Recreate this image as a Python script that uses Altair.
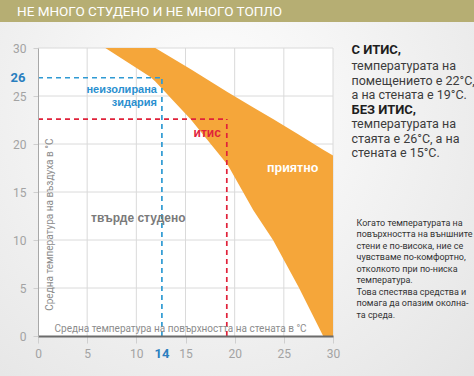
import altair as alt
import pandas as pd

# ---- data ----
band_x = [6.85, 11.4, 11.93, 15.5, 19.3, 21.9, 23.9, 26.5, 29.0, 30]
band_top = [30, 30, 30, 27.8, 25.4, 23.8, 22.6, 21.0, 19.4, 18.8]
band_bottom = [30, 27.0, 26.5, 22.6, 17.8, 13.1, 10.0, 5.1, 0, 0]

grid_vals = [5, 10, 15, 20, 25, 30]
tick_vals = [0, 5, 10, 15, 20, 25, 30]

blue_pt = (12.6, 26.9)   # uninsulated masonry: wall 14, air 26
red_pt = (19.2, 22.6)    # ITIS: wall 19, air 22

NARROW = "Roboto, Liberation Sans, sans-serif"
SANS = "Liberation Sans, Arial, sans-serif"

W, H = 295, 288
PL, PT = 38, 48

xs = alt.Scale(domain=[0, 30], nice=False, zero=False)
ys = alt.Scale(domain=[0, 30], nice=False, zero=False)

x_axis = alt.Axis(values=tick_vals, title=None, grid=False, domainColor="#6b6b6b",
                  domainWidth=2, tickColor="#cfcfcf", tickSize=7, labelPadding=5,
                  labelColor="#a3a3a3", labelFontSize=12, labelFont=NARROW, zindex=1,
                  labelFlush=False)
y_axis = alt.Axis(values=tick_vals, title=None, grid=False, domainColor="#a8a8a8",
                  domainWidth=1, tickColor="#cfcfcf", tickSize=5, labelPadding=7,
                  labelColor="#a3a3a3", labelFontSize=12, labelFont=NARROW, zindex=1,
                  labelFlush=False)

one = pd.DataFrame({"a": [0]})

# background gradient
bg = alt.Chart(one).mark_rect(
    fill=alt.RadialGradient(gradient="radial",
                            stops=[alt.GradientStop(color="#ffffff", offset=0),
                                   alt.GradientStop(color="#e2e2e2", offset=1)],
                            x1=0.45, y1=0.35, r1=0, x2=0.45, y2=0.35, r2=0.85)
).encode(x=alt.value(-PL), x2=alt.value(474 - PL), y=alt.value(-PT), y2=alt.value(376 - PT))

title_bar = alt.Chart(one).mark_rect(fill="#b6ae73").encode(
    x=alt.value(-PL), x2=alt.value(474 - PL), y=alt.value(-PT), y2=alt.value(22 - PT))
title_txt = alt.Chart(one).mark_text(
    text="НЕ МНОГО СТУДЕНО И НЕ МНОГО ТОПЛО", align="left", baseline="middle",
    font=NARROW, fontSize=13.5, color="#ffffff"
).encode(x=alt.value(17 - PL), y=alt.value(11.5 - PT))

plot_df = pd.DataFrame({"x": [0], "x2": [30], "y": [0], "y2": [30]})
plot_bg = alt.Chart(plot_df).mark_rect(fill="#ffffff").encode(
    x=alt.X("x:Q", scale=xs, axis=x_axis), x2="x2:Q",
    y=alt.Y("y:Q", scale=ys, axis=y_axis), y2="y2:Q")

vgrid = alt.Chart(pd.DataFrame({"gx": grid_vals})).mark_rule(color="#dadada", strokeWidth=1).encode(
    x=alt.X("gx:Q", scale=xs), y=alt.Y(datum=0, scale=ys), y2=alt.Y2(datum=30))
hgrid = alt.Chart(pd.DataFrame({"gy": grid_vals})).mark_rule(color="#dadada", strokeWidth=1).encode(
    y=alt.Y("gy:Q", scale=ys), x=alt.X(datum=0, scale=xs), x2=alt.X2(datum=30))

band_df = pd.DataFrame({"x": band_x, "top": band_top, "bottom": band_bottom})
band = alt.Chart(band_df).mark_area(color="#f5a63a", opacity=1).encode(
    x=alt.X("x:Q", scale=xs), y=alt.Y("top:Q", scale=ys), y2="bottom:Q")

lines_df = pd.DataFrame({
    "x": [0, blue_pt[0], 0, red_pt[0]],
    "x2": [blue_pt[0], blue_pt[0], red_pt[0], red_pt[0]],
    "y": [blue_pt[1], 0, red_pt[1], 0],
    "y2": [blue_pt[1], blue_pt[1], red_pt[1], red_pt[1]],
    "c": ["#2f9ad3", "#2f9ad3", "#e0223a", "#e0223a"],
})
dashes = alt.Chart(lines_df).mark_rule(strokeDash=[5, 4], strokeWidth=1.7).encode(
    x=alt.X("x:Q", scale=xs), x2="x2:Q", y=alt.Y("y:Q", scale=ys), y2="y2:Q",
    color=alt.Color("c:N", scale=None))

ann_df = pd.DataFrame({
    "x": [12.1, 12.1, 18.6, 25.9, 10.2],
    "y": [25.6, 24.25, 21.1, 17.5, 12.3],
    "t": ["неизолирана", "зидария", "итис", "приятно", "твърде студено"],
    "c": ["#2a8fcf", "#2a8fcf", "#e0223a", "#ffffff", "#7a7a7a"],
    "al": ["right", "right", "right", "center", "center"],
    "fs": [11, 11, 12, 12.5, 12],
})
ann_parts = []
for _, r in ann_df.iterrows():
    ann_parts.append(alt.Chart(pd.DataFrame([r])).mark_text(
        align=r["al"], baseline="middle", font=SANS, fontWeight="bold",
        fontSize=float(r["fs"]), color=r["c"]
    ).encode(x=alt.X("x:Q", scale=xs), y=alt.Y("y:Q", scale=ys), text="t:N"))

# blue highlighted axis values
lab26 = alt.Chart(pd.DataFrame({"y": [blue_pt[1]], "t": ["26"]})).mark_text(
    align="right", baseline="middle", font=NARROW, fontWeight="bold", fontSize=13,
    color="#2a7fbf").encode(x=alt.value(-12.5), y=alt.Y("y:Q", scale=ys), text="t:N")
lab14 = alt.Chart(pd.DataFrame({"x": [blue_pt[0]], "t": ["14"]})).mark_text(
    align="center", baseline="middle", font=NARROW, fontWeight="bold", fontSize=13,
    color="#2a7fbf").encode(x=alt.X("x:Q", scale=xs), y=alt.value(H + 18), text="t:N")

xtitle = alt.Chart(one).mark_text(
    text="Средна температура на повърхността на стената в °C", align="center",
    baseline="middle", font=NARROW, fontSize=10, color="#8c8c8c"
).encode(x=alt.X(datum=14.5, scale=xs), y=alt.Y(datum=0.75, scale=ys))
ytitle = alt.Chart(one).mark_text(
    text="Средна температура на въздуха в °C", align="center", angle=270,
    baseline="middle", font=NARROW, fontSize=10, color="#8c8c8c"
).encode(x=alt.X(datum=1.25, scale=xs), y=alt.Y(datum=11.6, scale=ys))

# right-hand panel text
RX = 351.5 - PL
p1 = alt.Chart(one).mark_text(text="С ИТИС,", align="left", baseline="middle", font=NARROW,
                              fontWeight="bold", fontSize=13, color="#1e1e1e").encode(
    x=alt.value(RX), y=alt.value(50 - PT))
p2 = alt.Chart(one).mark_text(
    text=["температурата на", "помещението е 22°C,", "а на стената е 19°C."],
    align="left", baseline="middle", font=NARROW, fontSize=12.5, lineHeight=14.5,
    color="#3c3c3c").encode(x=alt.value(RX), y=alt.value(66 - PT))
p3 = alt.Chart(one).mark_text(text="БЕЗ ИТИС,", align="left", baseline="middle", font=NARROW,
                              fontWeight="bold", fontSize=13, color="#1e1e1e").encode(
    x=alt.value(RX), y=alt.value(109.5 - PT))
p4 = alt.Chart(one).mark_text(
    text=["температурата на", "стаята е 26°C, а на", "стената е 15°C."],
    align="left", baseline="middle", font=NARROW, fontSize=12.5, lineHeight=14.5,
    color="#3c3c3c").encode(x=alt.value(RX), y=alt.value(124 - PT))
p5 = alt.Chart(one).mark_text(
    text=["Когато температурата на", "повърхността на външните", "стени е по-висока, ние се",
          "чувстваме по-комфортно,", "отколкото при по-ниска", "температура.",
          "Това спестява средства и", "помага да опазим околна-", "та среда."],
    align="left", baseline="middle", font=NARROW, fontSize=9, lineHeight=11.5,
    color="#333333").encode(x=alt.value(356.5 - PL), y=alt.value(222.7 - PT))

chart = alt.layer(
    bg, title_bar, title_txt, plot_bg, vgrid, hgrid, band, dashes, *ann_parts,
    lab26, lab14, xtitle, ytitle, p1, p2, p3, p4, p5
).properties(
    width=W, height=H,
    autosize=alt.AutoSizeParams(type="none"),
    padding={"left": PL, "top": PT, "right": 474 - PL - W, "bottom": 376 - PT - H},
    background="#ececec",
).configure_view(stroke=None)

chart.save("out.html", embed_options={"renderer": "svg", "actions": False})
